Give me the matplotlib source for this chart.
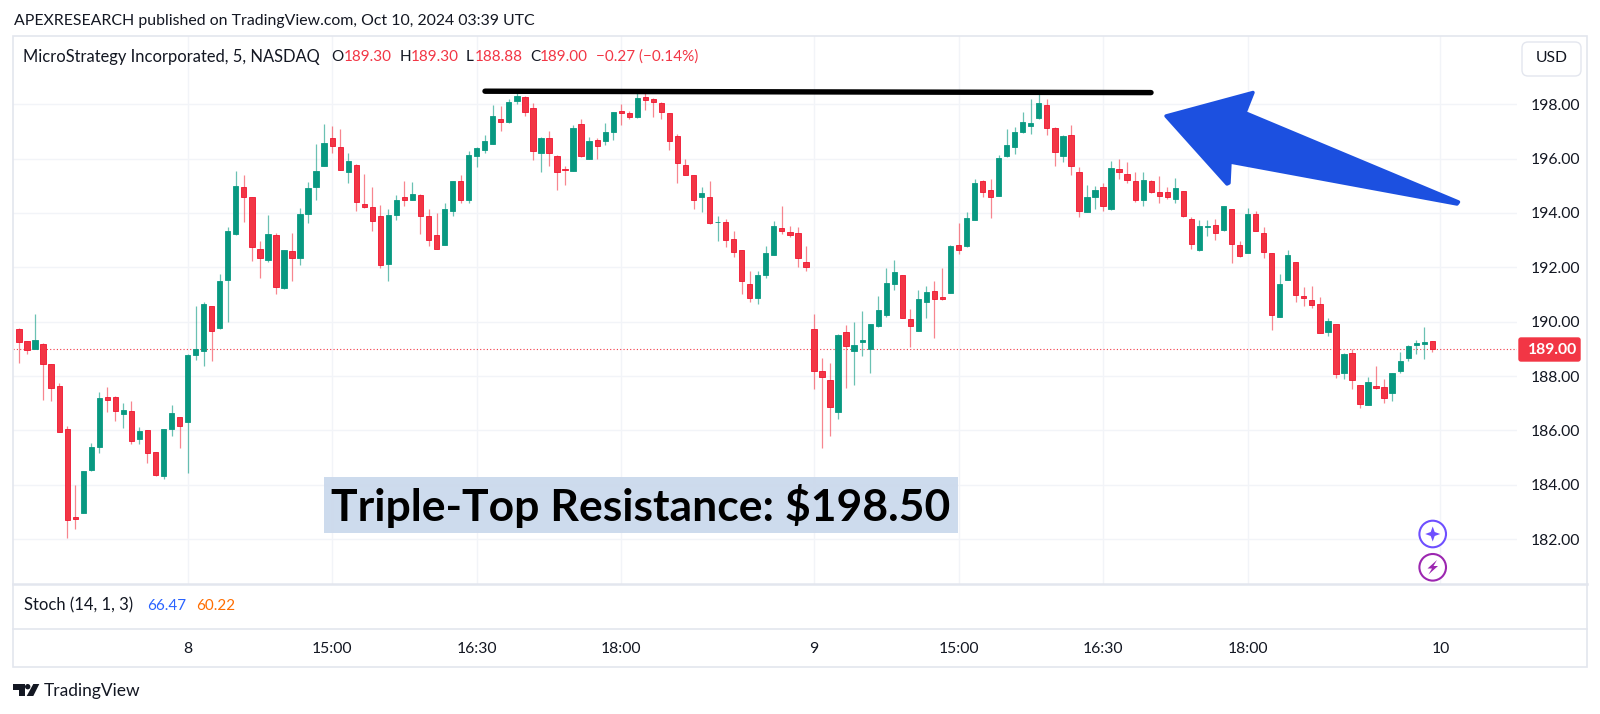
import matplotlib
matplotlib.use('Agg')
import matplotlib.pyplot as plt
import numpy as np
from matplotlib.patches import Circle, FancyBboxPatch, Polygon, Rectangle

plt.rcParams['font.family'] = ['Lato', 'DejaVu Sans']

opens = [
    189.73, 189.28, 189.00, 189.19, 188.44, 187.62, 186.07, 182.82, 182.97, 184.53,
    185.41, 187.22, 187.22, 186.62, 186.72, 185.67, 186.01, 185.21, 184.33, 186.06,
    186.49, 186.32, 188.76, 188.93, 190.58, 189.77, 191.54, 193.22, 194.94, 194.58,
    192.67, 192.27, 193.20, 191.25, 192.59, 192.36, 193.97, 194.96, 195.74, 196.74,
    196.44, 195.52, 195.78, 194.33, 194.21, 193.88, 192.14, 193.94, 194.60, 194.49,
    194.67, 193.88, 193.18, 192.83, 194.08, 195.17, 194.47, 196.08, 196.33, 196.54,
    197.45, 197.33, 198.11, 198.27, 197.85, 196.19, 196.76, 196.11, 195.61, 195.55,
    197.26, 195.98, 196.70, 196.63, 196.96, 197.75, 197.69, 197.52, 198.25, 198.18,
    198.05, 197.66, 196.84, 195.76, 195.39, 194.59, 194.60, 193.65, 193.66, 193.06,
    192.63, 191.38, 190.89, 191.71, 192.47, 193.45, 193.29, 193.26, 192.18, 189.75,
    188.17, 187.85, 186.68, 189.61, 188.92, 189.25, 188.99, 189.84, 190.25, 191.39,
    191.71, 190.11, 189.67, 190.73, 191.12, 190.90, 191.06, 192.83, 192.77, 193.75,
    195.19, 194.84, 194.63, 196.08, 196.44, 196.96, 197.19, 197.49, 197.98, 197.13,
    196.08, 196.86, 195.52, 194.04, 194.57, 194.94, 194.14, 195.62, 195.45, 195.19,
    194.47, 195.19, 194.76, 194.76, 194.53, 194.80, 193.78, 192.63, 193.49, 193.55,
    193.39, 194.14, 192.83, 192.53, 193.95, 193.26, 192.53, 190.19, 191.54, 192.20,
    190.95, 190.80, 190.66, 189.63, 189.91, 188.10, 188.85, 187.68, 186.95, 187.64,
    187.60, 187.38, 188.19, 188.65, 189.16, 189.19, 189.30,
]
highs = [
    189.76, 189.30, 190.29, 189.21, 188.45, 187.75, 186.17, 184.00, 184.51, 185.53,
    187.40, 187.59, 187.26, 187.00, 187.09, 186.14, 186.01, 185.21, 186.07, 186.94,
    186.50, 188.80, 190.58, 190.74, 190.58, 191.76, 193.50, 195.55, 195.40, 194.58,
    192.97, 193.93, 193.26, 192.64, 193.27, 194.19, 195.14, 196.54, 197.28, 197.20,
    197.10, 196.22, 195.79, 195.44, 194.97, 194.29, 194.14, 194.65, 195.17, 195.14,
    194.69, 194.15, 193.99, 194.36, 195.18, 195.40, 196.28, 196.41, 196.87, 197.98,
    197.93, 198.20, 198.45, 198.31, 198.06, 196.81, 197.02, 196.15, 195.73, 197.24,
    197.47, 196.79, 196.74, 197.31, 197.73, 198.00, 197.75, 198.42, 198.49, 198.22,
    198.07, 197.67, 196.91, 195.99, 195.40, 194.97, 195.18, 193.89, 193.76, 193.33,
    192.63, 191.86, 191.85, 192.78, 193.70, 194.26, 193.53, 193.49, 192.78, 190.28,
    188.67, 188.47, 189.54, 189.88, 189.98, 190.39, 189.92, 190.93, 191.96, 192.28,
    191.71, 190.47, 191.17, 191.31, 191.50, 191.99, 192.81, 193.62, 194.03, 195.24,
    195.23, 195.24, 196.12, 197.07, 197.17, 197.71, 198.18, 198.36, 198.18, 197.17,
    196.86, 197.24, 195.68, 195.03, 195.00, 195.10, 195.92, 195.99, 195.86, 195.50,
    195.50, 195.23, 195.36, 194.96, 195.30, 194.82, 193.86, 193.75, 193.75, 193.78,
    194.25, 194.15, 192.96, 194.19, 194.08, 193.49, 192.53, 191.76, 192.64, 192.21,
    191.27, 191.32, 190.90, 190.12, 189.91, 188.84, 188.99, 187.68, 187.98, 188.38,
    187.90, 188.12, 188.87, 189.16, 189.33, 189.79, 189.30,
]
lows = [
    188.50, 188.82, 188.99, 187.13, 187.08, 185.96, 182.03, 182.38, 182.95, 184.51,
    185.17, 186.68, 186.35, 186.08, 185.51, 185.50, 184.81, 184.34, 184.20, 185.81,
    185.36, 184.44, 188.61, 188.38, 188.57, 189.75, 189.98, 193.20, 193.66, 192.23,
    191.62, 192.20, 191.01, 191.22, 191.50, 192.09, 193.64, 194.48, 195.73, 196.20,
    195.57, 195.12, 194.07, 194.19, 193.34, 191.99, 191.50, 193.73, 194.26, 194.48,
    193.23, 192.79, 192.66, 192.81, 193.89, 194.38, 194.38, 195.70, 196.22, 196.52,
    197.02, 197.31, 198.00, 197.58, 195.95, 195.51, 195.73, 194.85, 195.03, 195.54,
    196.06, 195.97, 195.99, 196.49, 196.69, 197.22, 197.46, 197.51, 197.77, 197.53,
    197.47, 196.32, 195.11, 195.38, 194.15, 194.05, 193.61, 192.97, 192.75, 192.39,
    191.01, 190.74, 190.66, 191.59, 192.46, 193.24, 193.10, 192.03, 191.86, 187.53,
    185.34, 185.79, 186.44, 187.57, 187.69, 188.74, 188.12, 189.80, 190.19, 191.17,
    190.12, 189.06, 189.65, 190.15, 189.41, 190.80, 191.05, 192.48, 192.75, 193.73,
    194.59, 193.81, 194.62, 196.06, 196.17, 196.95, 196.92, 197.47, 196.86, 195.73,
    195.87, 195.40, 193.86, 194.02, 194.14, 194.07, 194.10, 195.24, 195.11, 194.41,
    194.26, 194.75, 194.36, 194.51, 194.36, 193.84, 192.69, 192.61, 193.16, 192.99,
    193.32, 192.16, 192.39, 192.52, 193.34, 192.35, 189.70, 190.18, 191.53, 190.74,
    190.58, 190.49, 189.59, 189.49, 187.93, 187.90, 187.53, 186.81, 186.94, 187.51,
    187.00, 187.10, 188.10, 188.55, 188.82, 188.62, 188.88,
]
closes = [
    189.27, 188.95, 189.32, 188.46, 187.58, 185.96, 182.69, 182.73, 184.50, 185.39,
    187.20, 187.11, 186.70, 186.76, 185.63, 185.99, 185.19, 184.36, 186.05, 186.64,
    186.17, 188.79, 188.99, 190.67, 189.67, 191.49, 193.33, 195.00, 194.57, 192.73,
    192.34, 193.23, 191.28, 192.63, 192.36, 193.98, 194.90, 195.56, 196.58, 196.48,
    195.59, 195.92, 194.41, 194.22, 193.72, 192.10, 193.92, 194.47, 194.49, 194.70,
    193.87, 193.02, 192.66, 194.14, 195.17, 194.48, 196.15, 196.38, 196.64, 197.56,
    197.33, 198.07, 198.31, 197.73, 196.27, 196.77, 196.21, 195.52, 195.57, 197.13,
    196.08, 196.64, 196.48, 196.97, 197.72, 197.69, 197.52, 198.22, 198.14, 198.09,
    197.72, 196.66, 195.82, 195.41, 194.49, 194.73, 193.62, 193.67, 193.02, 192.57,
    191.48, 190.89, 191.71, 192.53, 193.53, 193.32, 193.18, 192.36, 192.03, 188.17,
    187.97, 186.88, 189.52, 189.09, 189.14, 189.33, 189.91, 190.44, 191.42, 191.82,
    190.13, 189.84, 190.83, 191.10, 190.85, 190.82, 192.80, 192.63, 193.82, 195.10,
    194.78, 194.60, 196.01, 196.50, 196.97, 197.36, 197.30, 198.05, 197.13, 196.25,
    196.84, 195.74, 194.08, 194.58, 194.84, 194.27, 195.65, 195.49, 195.23, 194.48,
    195.23, 194.76, 194.64, 194.57, 194.92, 193.87, 192.86, 193.53, 193.53, 193.28,
    194.25, 192.86, 192.40, 193.98, 193.35, 192.57, 190.23, 191.39, 192.47, 191.00,
    190.89, 190.63, 189.60, 190.01, 188.09, 188.83, 187.84, 186.99, 187.79, 187.58,
    187.21, 188.11, 188.56, 189.12, 189.21, 189.25, 189.00,
]
price_ticks = [182, 184, 186, 188, 190, 192, 194, 196, 198]
time_ticks = [21, 39, 57, 75, 99, 117, 135, 153, 177]
time_labels = ['8', '15:00', '16:30', '18:00', '9', '15:00', '16:30', '18:00', '10']
last_price = 189.00

W, H = 1600, 714
RED = '#f23645'
RED_EDGE = '#f0142f'
GREEN = '#089981'
GRID = '#f2f4f8'
BORDER = '#e3e6ee'
TEXT = '#131722'


def px_axes(fig, left, top, right, bottom):
    return fig.add_axes([left / W, 1 - bottom / H, (right - left) / W, (bottom - top) / H])


fig = plt.figure(figsize=(W / 100, H / 100), dpi=100, facecolor='white')

# price pane, 8.03 px per bar
ax = px_axes(fig, 13, 36, 1517, 584)
ax.set_xlim((13 - 19) / 8.03, (1517 - 19) / 8.03)
ax.set_ylim(198 - (584 - 104.2) / 27.19, 198 + (104.2 - 36) / 27.19)
for s in ax.spines.values():
    s.set_visible(False)

ax.set_yticks(price_ticks)
ax.set_yticklabels(['%.2f' % p for p in price_ticks], fontsize=11.3, color=TEXT)
ax.yaxis.tick_right()
ax.tick_params(axis='y', length=0, pad=9.5)
ax.set_xticks(time_ticks)
ax.tick_params(axis='x', length=0, labelbottom=False)
ax.grid(True, color=GRID, lw=1)
ax.set_axisbelow(True)

idx = np.arange(len(closes))
o, h, l, c = map(np.array, (opens, highs, lows, closes))
up = c >= o
colors = np.where(up, GREEN, RED)
edges = np.where(up, GREEN, RED_EDGE)
ax.axhline(last_price, color=RED, lw=0.8, ls=(0, (1, 2)), zorder=1.5)
ax.vlines(idx, l, h, colors=colors, lw=0.9, alpha=0.6, zorder=2)
ax.bar(idx, np.abs(c - o), bottom=np.minimum(o, c), width=0.66, color=colors,
       edgecolor=edges, linewidth=0.6, zorder=3)

# stoch pane holds the time labels below it
ax2 = px_axes(fig, 13, 584, 1517, 629)
ax2.set_xlim(ax.get_xlim())
ax2.set_yticks([])
for s in ax2.spines.values():
    s.set_visible(False)
ax2.set_xticks(time_ticks)
ax2.set_xticklabels(time_labels, fontsize=11.3, color=TEXT)
ax2.tick_params(axis='x', length=0, pad=9.5)

# overlay in pixel coordinates for frame, drawings and texts
ov = fig.add_axes([0, 0, 1, 1], facecolor='none')
ov.set_xlim(0, W)
ov.set_ylim(H, 0)
ov.axis('off')

ov.add_patch(Rectangle((13, 36), 1574, 631, fill=False, ec=BORDER, lw=1.2))
ov.plot([13, 1587], [584, 584], color=BORDER, lw=1.8)
ov.plot([13, 1587], [629, 629], color=BORDER, lw=1.2)

ov.plot([485, 1151], [91.2, 92.6], color='black', lw=3.9, solid_capstyle='round')
ov.add_patch(Polygon([(1166, 116), (1253, 92.5), (1245, 112.7), (1458.5, 202), (1457, 204),
                      (1230, 162), (1229, 183), (1227, 184)],
                     closed=True, fc='#1c50e0', ec='#1c50e0', lw=2.5, joinstyle='round'))

ov.add_patch(Rectangle((324, 477), 634, 56, fc='#cbd9ec', ec='none', alpha=0.95))
ov.text(331, 506, 'Triple-Top Resistance: $198.50', fontsize=32, color='black',
        va='center', ha='left', fontweight='bold')

ov.add_patch(FancyBboxPatch((1520, 339), 59, 21, boxstyle='round,pad=1,rounding_size=2',
                            fc=RED, ec=RED))
ov.text(1553, 349.5, '189.00', color='white', fontsize=11.3, ha='center', va='center',
        fontweight='bold')

ov.add_patch(FancyBboxPatch((1524, 44), 55, 30, boxstyle='round,pad=2,rounding_size=6',
                            fc='white', ec=BORDER, lw=1))
ov.text(1551.5, 58.5, 'USD', color=TEXT, fontsize=11.3, ha='center', va='center')

ov.text(14, 20.5, 'APEXRESEARCH published on TradingView.com, Oct 10, 2024 03:39 UTC',
        color=TEXT, fontsize=11.4, va='center')

# legend row
ov.text(23, 57, 'MicroStrategy Incorporated, 5, NASDAQ', color=TEXT, fontsize=11.9, va='center')
legend_parts = [(331, 'O', TEXT), (343.5, '189.30', RED), (399.5, 'H', TEXT), (411, '189.30', RED),
                (465.5, 'L', TEXT), (475, '188.88', RED), (530, 'C', TEXT), (540, '189.00', RED),
                (595.5, '\u22120.27 (\u22120.14%)', RED)]
for x, s, col in legend_parts:
    ov.text(x, 57, s, color=col, fontsize=11, va='center')

ov.text(24, 605.5, 'Stoch (14, 1, 3)', color=TEXT, fontsize=12, va='center')
ov.text(147, 605.5, '66.47', color='#2962ff', fontsize=11, va='center')
ov.text(196, 605.5, '60.22', color='#ff6d00', fontsize=11, va='center')

# logo
ov.add_patch(Polygon([(13.3, 684), (25, 684), (25, 696), (19, 696), (19, 690), (13.3, 690)], fc=TEXT))
ov.add_patch(Circle((27.7, 686.7), 2.7, fc=TEXT))
ov.add_patch(Polygon([(33.3, 684), (39.3, 684), (33.3, 696), (26.7, 696)], fc=TEXT))
ov.text(44, 691, 'TradingView', color=TEXT, fontsize=12.5, va='center')

# chart icons
ov.add_patch(Circle((1432.7, 534), 13.3, fc='white', ec='#6e4fff', lw=1.5))
ov.add_patch(Polygon([(1432.7, 526.5), (1434.7, 532), (1440.2, 534), (1434.7, 536),
                      (1432.7, 541.5), (1430.7, 536), (1425.2, 534), (1430.7, 532)], fc='#6e4fff'))
ov.add_patch(Circle((1432.7, 567.3), 13.3, fc='white', ec='#9c27b0', lw=1.5))
ov.add_patch(Polygon([(1437, 560), (1427.5, 568.5), (1432, 568.5), (1428.5, 574.5),
                      (1438, 566), (1433.5, 566)], fc='#9c27b0'))

fig.savefig('out.png', dpi=100)
